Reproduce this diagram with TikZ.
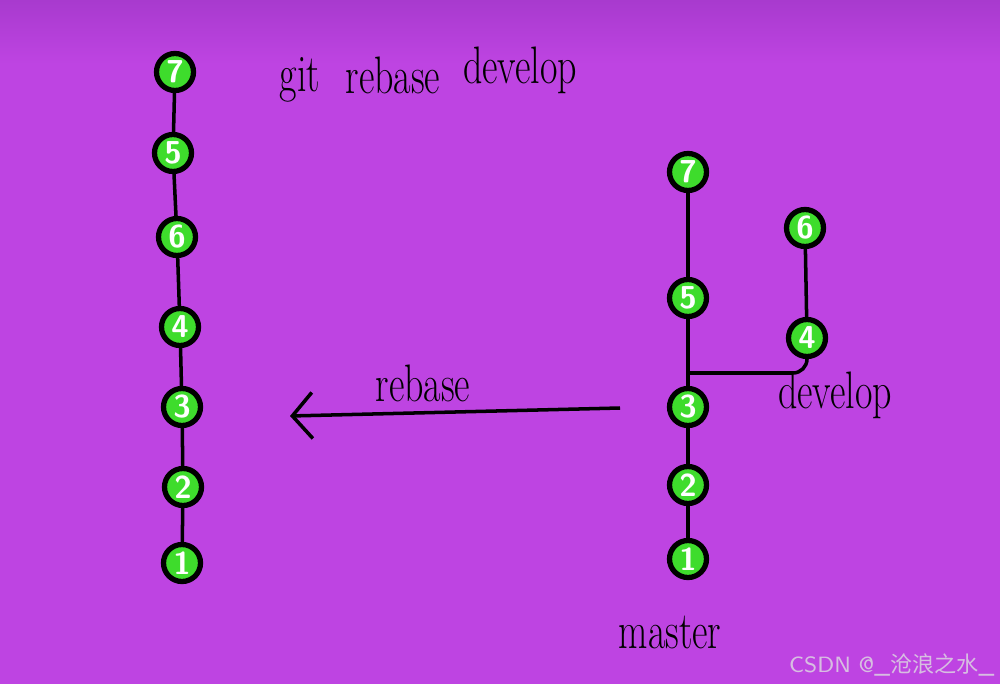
\documentclass[tikz,border=0pt]{standalone}
\usepackage{fontspec}
\newfontfamily\cjk{Noto Sans CJK SC}
\usetikzlibrary{positioning, arrows.meta, calc}
\definecolor{bgpurple}{RGB}{190,68,226}
\definecolor{bgtop}{RGB}{168,58,206}
\definecolor{commitgreen}{RGB}{62,220,44}
\definecolor{markgray}{RGB}{215,190,225}

\begin{document}
\begin{tikzpicture}[scale=1]
					\tikzset{
						commit/.style={circle, draw=black, line width=1.5pt, fill=commitgreen, minimum size=0.37cm, inner sep=0pt, text=white, font=\sffamily\bfseries\fontsize{9}{9}\selectfont},
						branch/.style={line width=1pt, black},
						hand/.style={font=\fontsize{15}{17}\selectfont, xscale=0.72, transform shape, inner sep=0pt}
					}
					% background
					\fill[bgpurple] (0,0) rectangle (10,6.84);
					\shade[top color=bgtop, bottom color=bgpurple] (0,6.2) rectangle (10,6.84);
					\useasboundingbox (0,0) rectangle (10,6.84);
					% after rebase
					\foreach \n/\x/\y in {1/1.82/1.21, 2/1.83/1.97, 3/1.82/2.77, 4/1.80/3.57, 6/1.77/4.47, 5/1.73/5.31, 7/1.75/6.12} {
						\node[commit] (gL\n) at (\x, \y) {\n};
					}
					\foreach \a/\b in {1/2, 2/3, 3/4, 4/6, 6/5, 5/7} {
						\draw[branch] (gL\a) -- (gL\b);
					}
					% before rebase
					\foreach \n/\x/\y in {1/6.88/1.25, 2/6.88/1.99, 3/6.88/2.77, 5/6.88/3.86, 7/6.88/5.12, 4/8.07/3.46, 6/8.05/4.56} {
						\node[commit] (gR\n) at (\x, \y) {\n};
					}
					\foreach \a/\b in {1/2, 2/3, 3/5, 5/7, 4/6} {
						\draw[branch] (gR\a) -- (gR\b);
					}
					\coordinate (fork) at (6.88, 3.11);
					\draw[branch, rounded corners=4pt] (fork) -| (gR4);
					% arrow
					\coordinate (arrowFrom) at (6.20, 2.76);
					\coordinate (arrowTo) at (2.90, 2.68);
					\draw[line width=1pt, -{Straight Barb[length=2mm, width=4.6mm]}] (arrowFrom) -- (arrowTo);
					% labels
					\node[hand] (cmdGit) at (3.00, 6.04) {git};
					\node[hand] (cmdRebase) at (3.93, 6.09) {rebase};
					\node[hand] (cmdDevelop) at (5.20, 6.14) {develop};
					\node[hand] (lblRebase) at (4.23, 3.01) {rebase};
					\node[hand] (lblDevelop) at (8.35, 2.89) {develop};
					\node[hand] (lblMaster) at (6.70, 0.52) {master};
					\node[anchor=east, text=markgray, inner sep=0pt, font=\sffamily\fontsize{6.3}{7}\selectfont] (mark) at (9.95, 0.19) {CSDN @\_{\cjk 沧浪之水}\_};
				\end{tikzpicture}
\end{document}
